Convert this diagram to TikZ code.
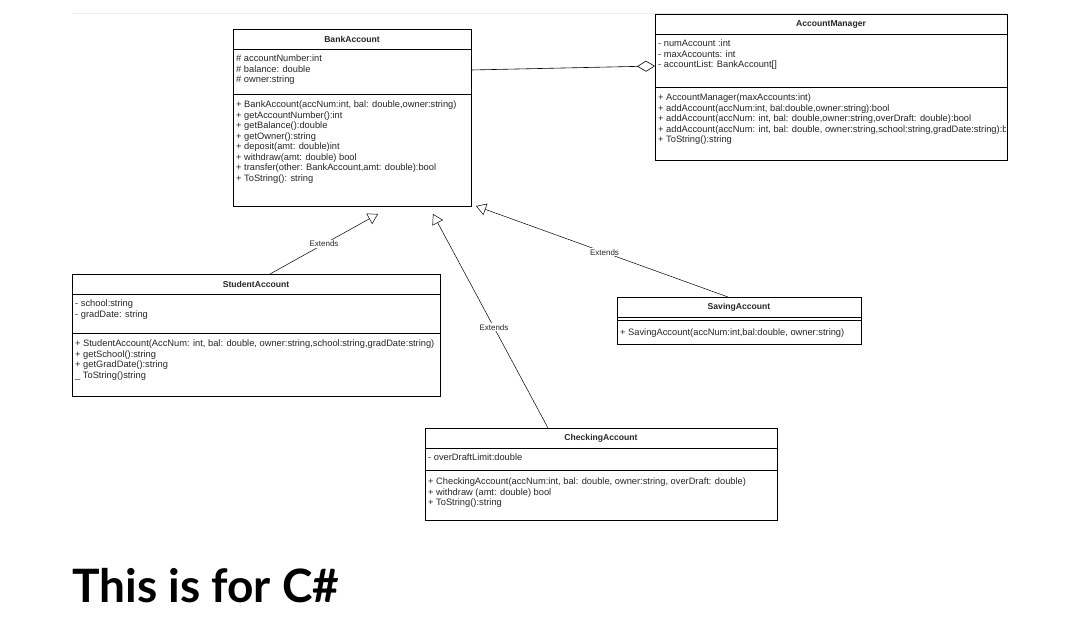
\documentclass[tikz,border=0pt]{standalone}
\usepackage{fontspec}
\setmainfont{Liberation Sans}
\newfontfamily\titlefont{Lato}
\usetikzlibrary{shapes.geometric,arrows.meta}
\begin{document}
\begin{tikzpicture}[x=1pt,y=-1pt,
  box/.style={draw,line width=0.6pt},
  ttl/.style={font=\fontsize{8.6}{9}\selectfont\bfseries,anchor=center,inner sep=0,text=black!85},
  txt/.style={font=\fontsize{9.3}{10.5}\selectfont,anchor=north west,align=left,inner sep=0,text=black!85},
  lab/.style={font=\fontsize{8}{9}\selectfont,fill=white,inner sep=1pt,text=black!85},
  inh/.style={draw,line width=0.5pt,-{Triangle[open,length=10pt,width=12pt]}}]
\useasboundingbox (0,0) rectangle (1080,621);
\fill[white] (0,0) rectangle (1080,621);
\draw[black!8] (72,13) -- (1008,13);
% BankAccount
\draw[box] (233,29) rectangle (471,206);
\draw[box] (233,49) -- (471,49); \draw[box] (233,94) -- (471,94);
\node[ttl] (bat) at (352,39) {BankAccount};
\node[txt] (baa) at (236,55) {\# accountNumber:int\\\# balance: double\\\# owner:string};
\node[txt] (bam) at (236,101) {+ BankAccount(accNum:int, bal: double,owner:string)\\+ getAccountNumber():int\\+ getBalance():double\\+ getOwner():string\\+ deposit(amt: double)int\\+ withdraw(amt: double) bool\\+ transfer(other: BankAccount,amt: double):bool\\+ ToString(): string};
\coordinate (bar) at (471,70);
% AccountManager
\draw[box] (655,14) rectangle (1007,160);
\draw[box] (655,34) -- (1007,34); \draw[box] (655,87) -- (1007,87);
\node[ttl] (amt) at (831,24) {AccountManager};
\node[txt] (ama) at (658,40) {- numAccount :int\\- maxAccounts: int\\- accountList: BankAccount[]};
\begin{scope}
\clip (655,87) rectangle (1005,160);
\node[txt] (amm) at (658,94) {+ AccountManager(maxAccounts:int)\\+ addAccount(accNum:int, bal:double,owner:string):bool\\+ addAccount(accNum: int, bal: double,owner:string,overDraft: double):bool\\+ addAccount(accNum: int, bal: double, owner:string,school:string,gradDate:string):bool\\+ ToString():string};
\end{scope}
\coordinate (aml) at (655,66);
% StudentAccount
\draw[box] (72,274) rectangle (440,396);
\draw[box] (72,294) -- (440,294); \draw[box] (72,333) -- (440,333);
\node[ttl] (sat) at (256,284) {StudentAccount};
\node[txt] (saa) at (75,300) {- school:string\\- gradDate: string};
\node[txt] (sam) at (75,340) {+ StudentAccount(AccNum: int, bal: double, owner:string,school:string,gradDate:string)\\+ getSchool():string\\+ getGradDate():string\\\_ ToString()string};
% SavingAccount
\draw[box] (617,297) rectangle (861,344);
\draw[box] (617,317) -- (861,317); \draw[box] (617,320) -- (861,320);
\node[ttl] (svt) at (739,307) {SavingAccount};
\node[txt] (svm) at (620,329) {+ SavingAccount(accNum:int,bal:double, owner:string)};
% CheckingAccount
\draw[box] (425,428) rectangle (777,520);
\draw[box] (425,448) -- (777,448); \draw[box] (425,470) -- (777,470);
\node[ttl] (cat) at (601,438) {CheckingAccount};
\node[txt] (caa) at (428,454) {- overDraftLimit:double};
\node[txt] (cam) at (428,478) {+ CheckingAccount(accNum:int, bal: double, owner:string, overDraft: double)\\+ withdraw (amt: double) bool\\+ ToString():string};
% connectors
\coordinate (s1) at (270,274); \coordinate (b1) at (378,214);
\coordinate (c1) at (548,428); \coordinate (b2) at (433,214);
\coordinate (v1) at (728,297); \coordinate (b3) at (476,206);
\draw[line width=0.6pt,-{Diamond[open,length=18pt,width=11pt]}] (bar) -- (aml);
\draw[inh] (s1) -- node[lab,pos=0.5] {Extends} (b1);
\draw[inh] (c1) -- node[lab,pos=0.47] {Extends} (b2);
\draw[inh] (v1) -- node[lab,pos=0.49] {Extends} (b3);
\node[font=\titlefont\bfseries\fontsize{46}{50}\selectfont,anchor=west,inner sep=0] (title) at (72,586) {This is for C\#};
\end{tikzpicture}
\end{document}
